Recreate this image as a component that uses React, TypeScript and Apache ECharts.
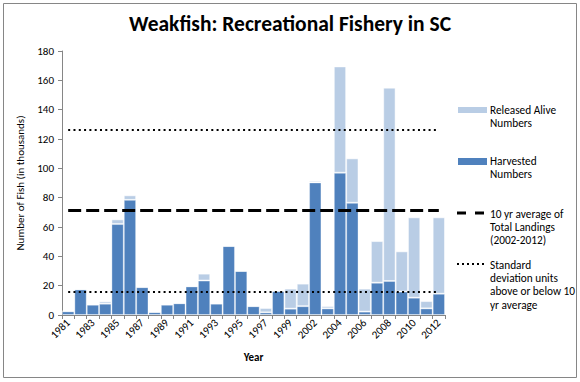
import React, { useEffect, useRef } from "react";
import * as echarts from "echarts";

const years = [
  "1981", "1982", "1983", "1984", "1985", "1986", "1987", "1988", "1989", "1990",
  "1991", "1992", "1993", "1994", "1995", "1996", "1997", "1998", "1999", "2000",
  "2002", "2003", "2004", "2005", "2006", "2007", "2008", "2009", "2010", "2011", "2012",
];
const harvested = [
  2.5, 17.5, 7, 7.7, 62, 78.5, 19, 2, 7, 8,
  19.5, 23.5, 7.7, 47, 30, 6, 1.8, 16.4, 4.3, 6,
  90.4, 4.5, 97, 76.5, 2.3, 22, 23.2, 16, 11.8, 4.5, 14.5,
];
const released = [
  0.2, 0, 0.4, 1.6, 3.2, 3.1, 0.2, 0, 0.6, 0.2,
  0.2, 4.7, 0.4, 0, 0, 0.2, 3, 0, 13.7, 15.4,
  1.1, 1.6, 72.5, 30.3, 15.7, 28.4, 131.8, 27.4, 54.8, 5, 52.1,
];
const tenYrAverage = 71.2;
const sdUpper = 126.3;
const sdLower = 16.1;

const FONT = 'Carlito, "Liberation Sans", Arial, sans-serif';

export default function App() {
  const ref = useRef<HTMLDivElement>(null);
  useEffect(() => {
    if (!ref.current) return;
    const chart = echarts.init(ref.current, null, { renderer: "svg" });
    const first = years[0];
    const last = years[years.length - 1];
    const dashed = { type: [13, 5], width: 3, color: "#000" };
    const dotted = { type: [2, 3.3], width: 2, color: "#000" };
    const seg = (v: number, ls: any) => [
      { xAxis: first, yAxis: v, lineStyle: ls },
      { xAxis: last, yAxis: v, lineStyle: ls },
    ];
    const legendText = { fontSize: 11.3, fontFamily: FONT, fill: "#000", lineHeight: 13.3 };
    chart.setOption({
      animation: false,
      backgroundColor: "#fff",
      title: {
        text: "Weakfish: Recreational Fishery in SC",
        left: 285,
        textAlign: "center",
        top: 8,
        textStyle: { fontSize: 21.5, fontWeight: "bold", fontFamily: FONT, color: "#000" },
      },
      grid: { left: 62, right: 135, top: 51, bottom: 67 },
      xAxis: {
        type: "category",
        data: years,
        name: "Year",
        nameLocation: "middle",
        nameGap: 37,
        nameTextStyle: { fontSize: 11, fontWeight: "bold", fontFamily: FONT, color: "#000" },
        axisLine: { lineStyle: { color: "#868686" } },
        axisTick: { show: true, interval: 0, length: 4, lineStyle: { color: "#868686" } },
        axisLabel: { interval: 1, rotate: 45, fontSize: 11, fontFamily: FONT, color: "#000", margin: 6 },
      },
      yAxis: {
        type: "value",
        min: 0,
        max: 180,
        interval: 20,
        name: "Number of Fish (in thousands)",
        nameLocation: "middle",
        nameGap: 32,
        nameTextStyle: { fontSize: 11, fontFamily: FONT, color: "#000" },
        axisLine: { show: true, lineStyle: { color: "#868686" } },
        axisTick: { show: true, length: 4, lineStyle: { color: "#868686" } },
        axisLabel: { fontSize: 11, fontFamily: FONT, color: "#000", margin: 8 },
        splitLine: { show: false },
      },
      series: [
        {
          name: "Harvested Numbers",
          type: "bar",
          stack: "total",
          data: harvested,
          barCategoryGap: "0%",
          itemStyle: { color: "#4F81BD", borderColor: "rgba(255,255,255,0.35)", borderWidth: 1 },
          markLine: {
            silent: true,
            symbol: "none",
            label: { show: false },
            lineStyle: dotted,
            data: [seg(tenYrAverage, dashed), seg(sdUpper, dotted), seg(sdLower, dotted)],
          },
        },
        {
          name: "Released Alive Numbers",
          type: "bar",
          stack: "total",
          data: released,
          barCategoryGap: "0%",
          itemStyle: { color: "#B9CDE5", borderColor: "rgba(255,255,255,0.5)", borderWidth: 1 },
        },
      ],
      graphic: [
        {
          type: "rect",
          shape: { x: 3.5, y: 3.5, width: 573, height: 374 },
          style: { fill: "none", stroke: "#868686", lineWidth: 1 },
          silent: true,
        },
        { type: "rect", shape: { x: 458, y: 107, width: 29, height: 6 }, style: { fill: "#B9CDE5" } },
        { type: "text", x: 490, y: 103, style: { ...legendText, text: "Released Alive\nNumbers" } },
        { type: "rect", shape: { x: 458, y: 158, width: 29, height: 7 }, style: { fill: "#4F81BD" } },
        { type: "text", x: 490, y: 154, style: { ...legendText, text: "Harvested\nNumbers" } },
        {
          type: "line",
          shape: { x1: 457, y1: 213, x2: 485, y2: 213 },
          style: { stroke: "#000", lineWidth: 3, lineDash: [9, 9] },
        },
        { type: "text", x: 490, y: 207, style: { ...legendText, text: "10 yr average of\nTotal Landings\n(2002-2012)" } },
        {
          type: "line",
          shape: { x1: 457, y1: 264, x2: 485, y2: 264 },
          style: { stroke: "#000", lineWidth: 2, lineDash: [2, 3] },
        },
        {
          type: "text",
          x: 490,
          y: 258,
          style: { ...legendText, text: "Standard\ndeviation units\nabove or below 10\nyr average" },
        },
      ],
    });
    return () => chart.dispose();
  }, []);
  return (
    <div
      ref={ref}
      style={{ position: "absolute", left: 0, top: 0, width: 580, height: 382 }}
    />
  );
}
